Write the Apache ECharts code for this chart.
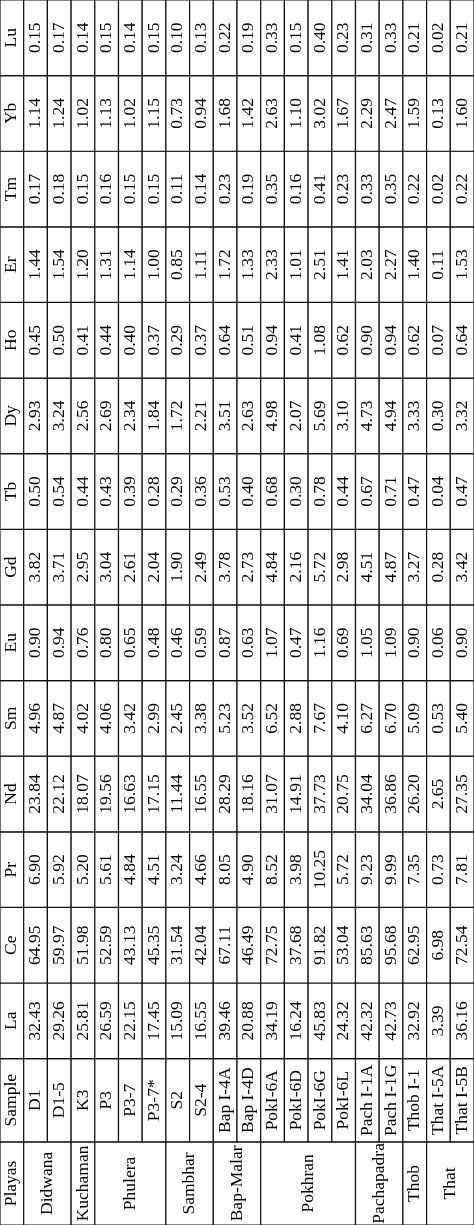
<!DOCTYPE html>
<html><head><meta charset="utf-8">
<script src="https://cdn.jsdelivr.net/npm/echarts@6/dist/echarts.min.js"></script>
<style>html,body{margin:0;padding:0;background:#fff}#c{width:474px;height:1225px}</style>
</head><body><div id="c"></div>
<script>
const samples = ["D1","D1-5","K3","P3","P3-7","P3-7*","S2","S2-4","Bap I-4A","Bap I-4D","PokI-6A","PokI-6D","PokI-6G","PokI-6L","Pach I-1A","Pach I-1G","Thob I-1","That I-5A","That I-5B"];
const playaGroups = ["Didwana","Kuchaman","Phulera","Sambhar","Bap-Malar","Pokhran","Pachapadra","Thob","That"];
const playaSizes = [2,1,3,2,2,4,2,1,2];
const elements = ["La","Ce","Pr","Nd","Sm","Eu","Gd","Tb","Dy","Ho","Er","Tm","Yb","Lu"];
const La = ["32.43","29.26","25.81","26.59","22.15","17.45","15.09","16.55","39.46","20.88","34.19","16.24","45.83","24.32","42.32","42.73","32.92","3.39","36.16"];
const Ce = ["64.95","59.97","51.98","52.59","43.13","45.35","31.54","42.04","67.11","46.49","72.75","37.68","91.82","53.04","85.63","95.68","62.95","6.98","72.54"];
const Pr = ["6.90","5.92","5.20","5.61","4.84","4.51","3.24","4.66","8.05","4.90","8.52","3.98","10.25","5.72","9.23","9.99","7.35","0.73","7.81"];
const Nd = ["23.84","22.12","18.07","19.56","16.63","17.15","11.44","16.55","28.29","18.16","31.07","14.91","37.73","20.75","34.04","36.86","26.20","2.65","27.35"];
const Sm = ["4.96","4.87","4.02","4.06","3.42","2.99","2.45","3.38","5.23","3.52","6.52","2.88","7.67","4.10","6.27","6.70","5.09","0.53","5.40"];
const Eu = ["0.90","0.94","0.76","0.80","0.65","0.48","0.46","0.59","0.87","0.63","1.07","0.47","1.16","0.69","1.05","1.09","0.90","0.06","0.90"];
const Gd = ["3.82","3.71","2.95","3.04","2.61","2.04","1.90","2.49","3.78","2.73","4.84","2.16","5.72","2.98","4.51","4.87","3.27","0.28","3.42"];
const Tb = ["0.50","0.54","0.44","0.43","0.39","0.28","0.29","0.36","0.53","0.40","0.68","0.30","0.78","0.44","0.67","0.71","0.47","0.04","0.47"];
const Dy = ["2.93","3.24","2.56","2.69","2.34","1.84","1.72","2.21","3.51","2.63","4.98","2.07","5.69","3.10","4.73","4.94","3.33","0.30","3.32"];
const Ho = ["0.45","0.50","0.41","0.44","0.40","0.37","0.29","0.37","0.64","0.51","0.94","0.41","1.08","0.62","0.90","0.94","0.62","0.07","0.64"];
const Er = ["1.44","1.54","1.20","1.31","1.14","1.00","0.85","1.11","1.72","1.33","2.33","1.01","2.51","1.41","2.03","2.27","1.40","0.11","1.53"];
const Tm = ["0.17","0.18","0.15","0.16","0.15","0.15","0.11","0.14","0.23","0.19","0.35","0.16","0.41","0.23","0.33","0.35","0.22","0.02","0.22"];
const Yb = ["1.14","1.24","1.02","1.13","1.02","1.15","0.73","0.94","1.68","1.42","2.63","1.10","3.02","1.67","2.29","2.47","1.59","0.13","1.60"];
const Lu = ["0.15","0.17","0.14","0.15","0.14","0.15","0.10","0.13","0.22","0.19","0.33","0.15","0.40","0.23","0.31","0.33","0.21","0.02","0.21"];
const values = {La,Ce,Pr,Nd,Sm,Eu,Gd,Tb,Dy,Ho,Er,Tm,Yb,Lu};

const HEAD = 1.1;
const cells = [];
cells.push([-1,0,0,HEAD,"Playas"]);
cells.push([-1,0,HEAD,2*HEAD,"Sample"]);
elements.forEach((e,i)=>cells.push([-1,0,2*HEAD+i,2*HEAD+i+1,e]));
let start=0;
playaGroups.forEach((g,i)=>{cells.push([start,start+playaSizes[i],0,HEAD,g]); start+=playaSizes[i];});
samples.forEach((s,j)=>{
  cells.push([j,j+1,HEAD,2*HEAD,s]);
  elements.forEach((e,i)=>cells.push([j,j+1,2*HEAD+i,2*HEAD+i+1,values[e][j]]));
});

const chart = echarts.init(document.getElementById('c'));
chart.setOption({
  animation:false,
  backgroundColor:'#fff',
  grid:{left:-4,right:-2,top:-24,bottom:-4},
  xAxis:{type:'value',min:-1,max:19,show:false},
  yAxis:{type:'value',min:0,max:2*HEAD+14,show:false},
  series:[{
    type:'custom',
    data:cells,
    encode:{x:[0,1],y:[2,3]},
    renderItem:function(params,api){
      const p0=api.coord([api.value(0),api.value(2)]);
      const p1=api.coord([api.value(1),api.value(3)]);
      const x=Math.min(p0[0],p1[0]), y=Math.min(p0[1],p1[1]);
      const w=Math.abs(p1[0]-p0[0]), h=Math.abs(p1[1]-p0[1]);
      const txt=cells[params.dataIndex][4];
      return {type:'group',children:[
        {type:'rect',shape:{x:x,y:y,width:w,height:h},style:{fill:'#fff',stroke:'#111',lineWidth:1.2}},
        {type:'text',x:x+w/2,y:y+h/2,rotation:Math.PI/2,
         style:{text:txt,fill:'#000',fontFamily:'Liberation Serif',fontSize:17.5,align:'center',verticalAlign:'middle'}}
      ]};
    }
  }]
});
</script></body></html>
